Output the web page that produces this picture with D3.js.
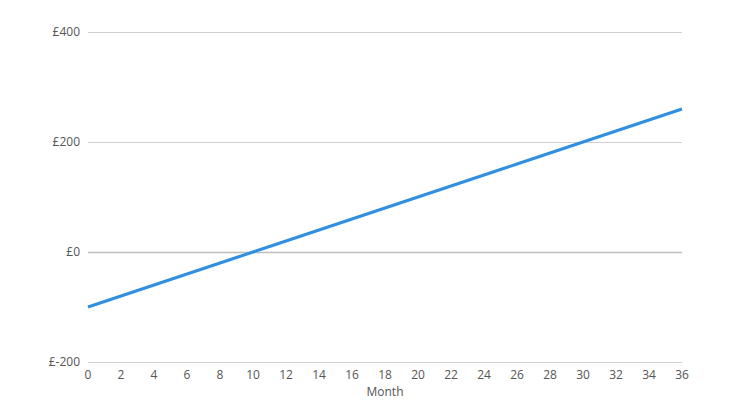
<!DOCTYPE html>
<html>
<head>
<meta charset="utf-8">
<script src="https://cdn.jsdelivr.net/npm/d3@7"></script>
<style>
  body { margin: 0; background: #fff; }
  text { font-family: "Open Sans", sans-serif; }
</style>
</head>
<body>
<svg width="733" height="405"></svg>
<script>
// Chart data
var months = [0, 1, 2, 3, 4, 5, 6, 7, 8, 9, 10, 11, 12, 13, 14, 15, 16, 17, 18,
              19, 20, 21, 22, 23, 24, 25, 26, 27, 28, 29, 30, 31, 32, 33, 34, 35, 36];
var balance = [-100, -90, -80, -70, -60, -50, -40, -30, -20, -10, 0, 10, 20, 30, 40,
               50, 60, 70, 80, 90, 100, 110, 120, 130, 140, 150, 160, 170, 180, 190,
               200, 210, 220, 230, 240, 250, 260];
var yTicks = [-200, 0, 200, 400];
var xTicks = [0, 2, 4, 6, 8, 10, 12, 14, 16, 18, 20, 22, 24, 26, 28, 30, 32, 34, 36];

var plotLeft = 88, plotRight = 682, plotTop = 32, plotBottom = 362;

var svg = d3.select('svg');

var x = d3.scaleLinear().domain([0, 36]).range([plotLeft, plotRight]);
var y = d3.scaleLinear().domain([-200, 400]).range([plotBottom, plotTop]);

// Gridlines
svg.append('g')
    .selectAll('line')
    .data(yTicks)
    .enter()
    .append('line')
    .attr('x1', plotLeft)
    .attr('x2', plotRight)
    .attr('y1', d => y(d) + 0.5)
    .attr('y2', d => y(d) + 0.5)
    .attr('stroke', d => d === 0 ? '#bdbdbd' : '#d0d0d0')
    .attr('stroke-width', d => d === 0 ? 1.5 : 1);

// Y labels
svg.append('g')
    .selectAll('text')
    .data(yTicks)
    .enter()
    .append('text')
    .attr('x', plotLeft - 8)
    .attr('y', d => y(d) + 4)
    .attr('text-anchor', 'end')
    .attr('font-size', 12)
    .attr('fill', '#555')
    .text(d => '£' + d);

// X labels
svg.append('g')
    .selectAll('text')
    .data(xTicks)
    .enter()
    .append('text')
    .attr('x', d => x(d))
    .attr('y', plotBottom + 17)
    .attr('text-anchor', 'middle')
    .attr('font-size', 12)
    .attr('fill', '#555')
    .text(d => d);

svg.append('text')
    .attr('x', (plotLeft + plotRight) / 2)
    .attr('y', plotBottom + 34)
    .attr('text-anchor', 'middle')
    .attr('font-size', 12)
    .attr('fill', '#555')
    .text('Month');

// Line
var line = d3.line()
    .x((d, i) => x(months[i]))
    .y(d => y(d));

svg.append('path')
    .datum(balance)
    .attr('d', line)
    .attr('fill', 'none')
    .attr('stroke', '#2f8fe0')
    .attr('stroke-width', 3);
</script>
</body>
</html>
